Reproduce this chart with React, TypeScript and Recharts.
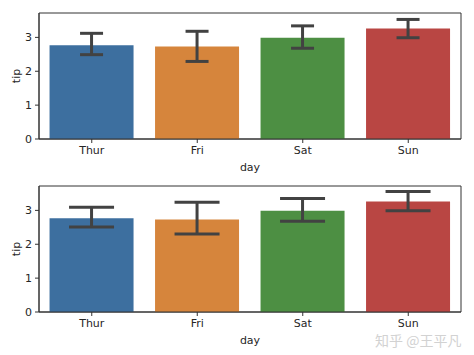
import { BarChart, Bar, Cell, XAxis, YAxis, ErrorBar, CartesianGrid } from 'recharts';

const days = ['Thur', 'Fri', 'Sat', 'Sun'];
const tipMeans = [2.77, 2.73, 2.99, 3.26];
const topCiLow = [2.49, 2.29, 2.68, 2.99];
const topCiHigh = [3.12, 3.18, 3.34, 3.53];
const bottomCiLow = [2.51, 2.3, 2.68, 2.99];
const bottomCiHigh = [3.09, 3.24, 3.35, 3.56];
const yTicks = [0, 1, 2, 3];

const COLORS = ['#3d6f9f', '#d6853c', '#4d8f43', '#b94643'];
const AXIS = '#333333';
const TEXT = '#262626';
const FONT = '"DejaVu Sans", sans-serif';

function build(low: number[], high: number[]) {
  return days.map((day, i) => ({
    day,
    tip: tipMeans[i],
    err: [tipMeans[i] - low[i], high[i] - tipMeans[i]],
  }));
}

interface PanelProps {
  low: number[];
  high: number[];
  height: number;
  top: number;
  marginTop: number;
  xAxisHeight: number;
  dayOffset: number;
  capHalf: number;
}

function Panel({ low, high, height, top, marginTop, xAxisHeight, dayOffset, capHalf }: PanelProps) {
  const data = build(low, high);
  return (
    <div style={{ position: 'absolute', left: 0, top }}>
      <BarChart
        width={474}
        height={height}
        data={data}
        margin={{ top: marginTop, right: 13, left: 0, bottom: 0 }}
        barCategoryGap="10%"
      >
        <CartesianGrid
          stroke={AXIS}
          strokeWidth={1}
          horizontalCoordinatesGenerator={({ offset }: any) => [offset.top, offset.top + offset.height]}
          verticalCoordinatesGenerator={({ offset }: any) => [offset.left, offset.left + offset.width]}
        />
        <XAxis
          dataKey="day"
          height={xAxisHeight}
          tickSize={4}
          tickMargin={3}
          stroke={AXIS}
          tick={{ fill: TEXT, fontSize: 11, fontFamily: FONT }}
          label={{ value: 'day', position: 'insideBottom', offset: dayOffset, fill: TEXT, fontSize: 11, fontFamily: FONT }}
        />
        <YAxis
          width={39}
          domain={[0, 3.72]}
          ticks={yTicks}
          tickSize={4}
          tickMargin={3}
          stroke={AXIS}
          tick={{ fill: TEXT, fontSize: 11, fontFamily: FONT }}
          label={{ value: 'tip', angle: -90, position: 'center', dx: -3, fill: TEXT, fontSize: 11, fontFamily: FONT }}
        />
        <Bar dataKey="tip" isAnimationActive={false}>
          {data.map((d, i) => (
            <Cell key={d.day} fill={COLORS[i]} />
          ))}
          <ErrorBar dataKey="err" width={capHalf} strokeWidth={3} stroke="#424242" direction="y" />
        </Bar>
      </BarChart>
    </div>
  );
}

export default function App() {
  return (
    <div style={{ position: 'absolute', left: 0, top: 0, width: 474, height: 355, background: '#fff', overflow: 'hidden' }}>
      <Panel low={topCiLow} high={topCiHigh} height={175} top={0} marginTop={13} xAxisHeight={36} dayOffset={4} capHalf={11.5} />
      <Panel low={bottomCiLow} high={bottomCiHigh} height={180} top={175} marginTop={11} xAxisHeight={43} dayOffset={11} capHalf={22.5} />
      <div
        style={{
          position: 'absolute',
          left: 375,
          top: 331,
          fontSize: 14,
          lineHeight: '18px',
          color: '#d2d2d2',
          fontFamily: '"Noto Sans CJK SC", sans-serif',
          whiteSpace: 'nowrap',
        }}
      >
        知乎 @王平凡
      </div>
    </div>
  );
}
